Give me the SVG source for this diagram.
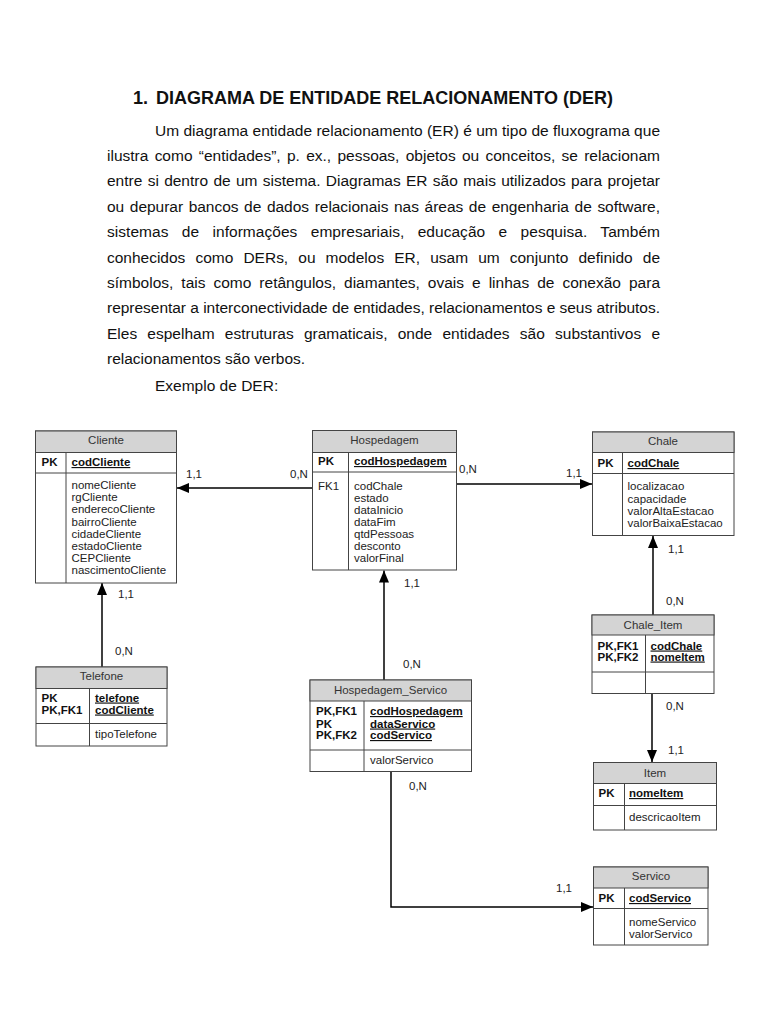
<svg xmlns="http://www.w3.org/2000/svg" width="768" height="1024" viewBox="0 0 768 1024">
<style>
.t{font-family:"Liberation Sans",Arial,sans-serif;font-size:15.5px;fill:#111}
.ti{font-family:"Liberation Sans",Arial,sans-serif;font-size:18px;font-weight:bold;fill:#111}
.e{font-family:"Liberation Sans",Arial,sans-serif;font-size:11.5px;fill:#222}
.h{text-anchor:middle;fill:#333}
.k{font-weight:bold;fill:#111}
.u{font-weight:bold;text-decoration:underline;fill:#111}
.box{fill:#fff;stroke:#444;stroke-width:1}
.hd{fill:#d4d4d4;stroke:#444;stroke-width:1}
.ln{stroke:#444;stroke-width:1}
.c{stroke:#000;stroke-width:1.5;fill:none;marker-end:url(#a)}
</style>
<defs>
<marker id="a" markerUnits="userSpaceOnUse" markerWidth="12" markerHeight="10" refX="12" refY="5" orient="auto">
<path d="M0,0 L12,5 L0,10 Z" fill="#000"/>
</marker>
</defs>
<rect width="768" height="1024" fill="#fff"/>
<g id="texto">
<text class="ti" x="133" y="104">1.</text>
<text class="ti" x="156" y="104">DIAGRAMA DE ENTIDADE RELACIONAMENTO (DER)</text>
<text class="t" x="155" y="135.5" textLength="505" lengthAdjust="spacing">Um diagrama entidade relacionamento (ER) é um tipo de fluxograma que</text>
<text class="t" x="107" y="161" word-spacing="2" textLength="553" lengthAdjust="spacing">ilustra como “entidades”, p. ex., pessoas, objetos ou conceitos, se relacionam</text>
<text class="t" x="107" y="186" word-spacing="1" textLength="553" lengthAdjust="spacing">entre si dentro de um sistema. Diagramas ER são mais utilizados para projetar</text>
<text class="t" x="107" y="211.5" word-spacing="1.4" textLength="553" lengthAdjust="spacing">ou depurar bancos de dados relacionais nas áreas de engenharia de software,</text>
<text class="t" x="107" y="237" word-spacing="9" textLength="553" lengthAdjust="spacing">sistemas de informações empresariais, educação e pesquisa. Também</text>
<text class="t" x="107" y="262.5" word-spacing="5.8" textLength="553" lengthAdjust="spacing">conhecidos como DERs, ou modelos ER, usam um conjunto definido de</text>
<text class="t" x="107" y="288" word-spacing="3.7" textLength="553" lengthAdjust="spacing">símbolos, tais como retângulos, diamantes, ovais e linhas de conexão para</text>
<text class="t" x="107" y="313" textLength="553" lengthAdjust="spacing">representar a interconectividade de entidades, relacionamentos e seus atributos.</text>
<text class="t" x="107" y="338.5" word-spacing="5.9" textLength="553" lengthAdjust="spacing">Eles espelham estruturas gramaticais, onde entidades são substantivos e</text>
<text class="t" x="107" y="364">relacionamentos são verbos.</text>
<text class="t" x="155" y="391">Exemplo de DER:</text>
</g>
<g id="connectors">
<path class="c" d="M312,488 L177,488"/>
<path class="c" d="M457,484 L592,484"/>
<path class="c" d="M102,667 L102,583"/>
<path class="c" d="M384,680 L384,570.5"/>
<path class="c" d="M653,615 L653,536"/>
<path class="c" d="M652,693 L652,762"/>
<path class="c" d="M391,772 L391,907 L593,907"/>
<g class="e">
<text x="186" y="478">1,1</text>
<text x="290" y="478">0,N</text>
<text x="459" y="473">0,N</text>
<text x="566" y="477">1,1</text>
<text x="118" y="598">1,1</text>
<text x="115" y="655">0,N</text>
<text x="404" y="587">1,1</text>
<text x="403" y="668">0,N</text>
<text x="668" y="553">1,1</text>
<text x="666" y="605">0,N</text>
<text x="666" y="710">0,N</text>
<text x="668" y="754">1,1</text>
<text x="409" y="790">0,N</text>
<text x="556" y="892">1,1</text>
</g>
</g>
<g id="Cliente" class="e">
<rect class="box" x="35.5" y="431" width="141" height="152"/>
<rect class="hd" x="35.5" y="431" width="141" height="21.5"/>
<line class="ln" x1="35.5" y1="473" x2="176.5" y2="473"/>
<line class="ln" x1="66" y1="452.5" x2="66" y2="583"/>
<text class="h" x="106" y="444">Cliente</text>
<text class="k" x="41.5" y="466">PK</text>
<text class="u" x="71.5" y="466">codCliente</text>
<text x="71.5" y="489">nomeCliente</text>
<text x="71.5" y="501">rgCliente</text>
<text x="71.5" y="513">enderecoCliente</text>
<text x="71.5" y="525.5">bairroCliente</text>
<text x="71.5" y="537.5">cidadeCliente</text>
<text x="71.5" y="549.5">estadoCliente</text>
<text x="71.5" y="561.5">CEPCliente</text>
<text x="71.5" y="573.5">nascimentoCliente</text>
</g>
<g id="Hospedagem" class="e">
<rect class="box" x="312.5" y="430.5" width="144" height="139.5"/>
<rect class="hd" x="312.5" y="430.5" width="144" height="22"/>
<line class="ln" x1="312.5" y1="472" x2="456.5" y2="472"/>
<line class="ln" x1="348.5" y1="452.5" x2="348.5" y2="570"/>
<text class="h" x="384.5" y="444">Hospedagem</text>
<text class="k" x="318" y="465">PK</text>
<text class="u" x="354" y="465">codHospedagem</text>
<text x="318" y="489.5">FK1</text>
<text x="354" y="489.5">codChale</text>
<text x="354" y="501.5">estado</text>
<text x="354" y="513.5">dataInicio</text>
<text x="354" y="525.5">dataFim</text>
<text x="354" y="537.5">qtdPessoas</text>
<text x="354" y="549.5">desconto</text>
<text x="354" y="562">valorFinal</text>
</g>
<g id="Chale" class="e">
<rect class="box" x="592.5" y="432" width="141.5" height="103.5"/>
<rect class="hd" x="592.5" y="432" width="141.5" height="20.5"/>
<line class="ln" x1="592.5" y1="473.5" x2="734" y2="473.5"/>
<line class="ln" x1="622.5" y1="452.5" x2="622.5" y2="535.5"/>
<text class="h" x="663" y="445">Chale</text>
<text class="k" x="597.5" y="467">PK</text>
<text class="u" x="627.5" y="467">codChale</text>
<text x="627.5" y="490">localizacao</text>
<text x="627.5" y="502.5">capacidade</text>
<text x="627.5" y="514.5">valorAltaEstacao</text>
<text x="627.5" y="526.5">valorBaixaEstacao</text>
</g>
<g id="Telefone" class="e">
<rect class="box" x="36" y="667" width="131" height="79"/>
<rect class="hd" x="36" y="667" width="131" height="21.5"/>
<line class="ln" x1="36" y1="723.5" x2="167" y2="723.5"/>
<line class="ln" x1="89.5" y1="688.5" x2="89.5" y2="746"/>
<text class="h" x="101.5" y="680">Telefone</text>
<text class="k" x="41.5" y="701.5">PK</text>
<text class="k" x="41.5" y="713.5">PK,FK1</text>
<text class="u" x="95" y="701.5">telefone</text>
<text class="u" x="95" y="713.5">codCliente</text>
<text x="95" y="737.5">tipoTelefone</text>
</g>
<g id="Hospedagem_Servico" class="e">
<rect class="box" x="310" y="680" width="161.5" height="91.5"/>
<rect class="hd" x="310" y="680" width="161.5" height="21"/>
<line class="ln" x1="310" y1="750" x2="471.5" y2="750"/>
<line class="ln" x1="364" y1="701" x2="364" y2="771.5"/>
<text class="h" x="390.5" y="693.5">Hospedagem_Servico</text>
<text class="k" x="316" y="715">PK,FK1</text>
<text class="k" x="316" y="727.5">PK</text>
<text class="k" x="316" y="739">PK,FK2</text>
<text class="u" x="370" y="715">codHospedagem</text>
<text class="u" x="370" y="727.5">dataServico</text>
<text class="u" x="370" y="739">codServico</text>
<text x="370" y="763.5">valorServico</text>
</g>
<g id="Chale_Item" class="e">
<rect class="box" x="592" y="615" width="122" height="78.5"/>
<rect class="hd" x="592" y="615" width="122" height="20"/>
<line class="ln" x1="592" y1="672" x2="714" y2="672"/>
<line class="ln" x1="645.5" y1="635" x2="645.5" y2="693.5"/>
<text class="h" x="653" y="628.5">Chale_Item</text>
<text class="k" x="597.5" y="649.5">PK,FK1</text>
<text class="k" x="597.5" y="660.5">PK,FK2</text>
<text class="u" x="650.5" y="649.5">codChale</text>
<text class="u" x="650.5" y="660.5">nomeItem</text>
</g>
<g id="Item" class="e">
<rect class="box" x="593.5" y="762.5" width="123" height="67.5"/>
<rect class="hd" x="593.5" y="762.5" width="123" height="21"/>
<line class="ln" x1="593.5" y1="805.5" x2="716.5" y2="805.5"/>
<line class="ln" x1="624.5" y1="783.5" x2="624.5" y2="830"/>
<text class="h" x="655" y="777">Item</text>
<text class="k" x="598.5" y="797">PK</text>
<text class="u" x="629" y="797">nomeItem</text>
<text x="629" y="821">descricaoItem</text>
</g>
<g id="Servico" class="e">
<rect class="box" x="593.5" y="867" width="114.5" height="78"/>
<rect class="hd" x="593.5" y="867" width="114.5" height="21"/>
<line class="ln" x1="593.5" y1="908.5" x2="708" y2="908.5"/>
<line class="ln" x1="624.5" y1="888" x2="624.5" y2="945"/>
<text class="h" x="651" y="880">Servico</text>
<text class="k" x="598.5" y="902">PK</text>
<text class="u" x="629" y="902">codServico</text>
<text x="629" y="926">nomeServico</text>
<text x="629" y="937.5">valorServico</text>
</g>
</svg>
